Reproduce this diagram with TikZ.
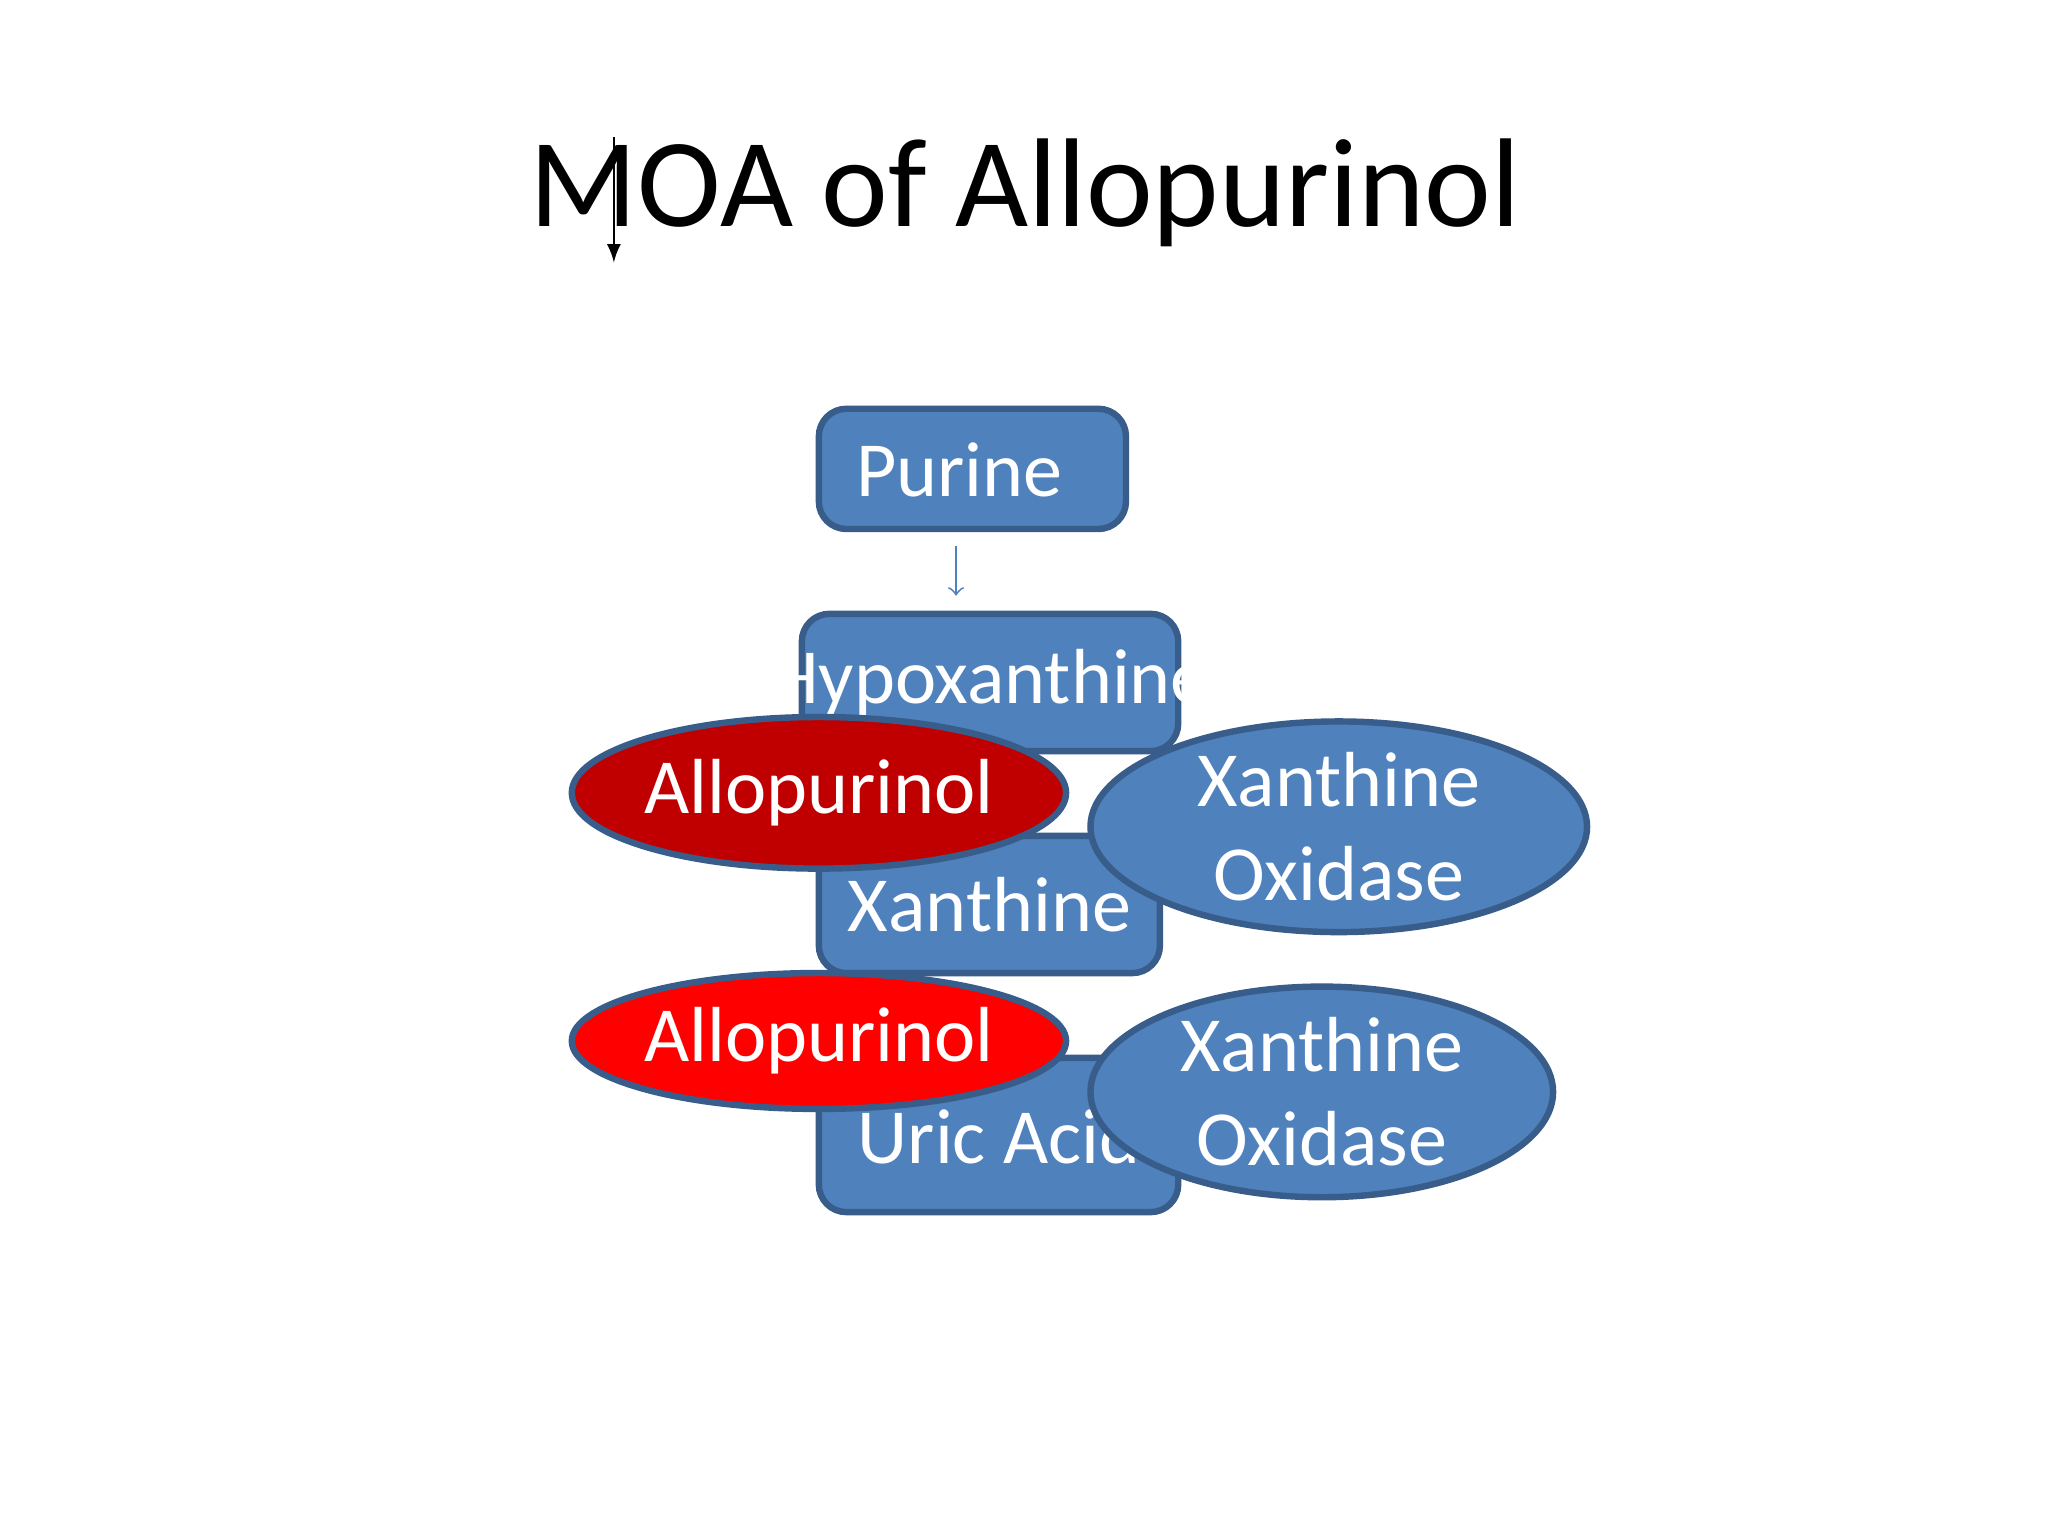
\documentclass[tikz,border=0pt]{standalone}
\usepackage{fontspec}
\setmainfont{Carlito}
\usetikzlibrary{shapes.geometric}
\definecolor{boxblue}{HTML}{4F81BD}
\definecolor{boxline}{HTML}{385D8A}
\definecolor{darkred}{HTML}{C00000}
\begin{document}
\begin{tikzpicture}[x=0.01cm,y=-0.01cm,
                    stepbox/.style={rectangle, rounded corners=6pt, draw=boxline, line width=1.4pt, fill=boxblue, text=white, font=\fontsize{17}{20}\selectfont},
                    drugnode/.style={ellipse, draw=boxline, line width=1.4pt, text=white, font=\fontsize{17}{20}\selectfont, inner sep=0pt},
                    enzymenode/.style={ellipse, draw=boxline, line width=1.4pt, fill=boxblue, text=white, align=center, font=\fontsize{17}{20.5}\selectfont, inner sep=0pt}
                   ]
\useasboundingbox[fill=white] (0,0) rectangle (1568,1176);
%Title
\node (title) at (785,148) {\fontsize{27.5}{33}\selectfont MOA of Allopurinol};
\coordinate (ta) at (470,105);
\coordinate (tb) at (470,201);
\draw[-latex, thin] (ta) -- (tb);
%Boxes
\node[stepbox, minimum width=2.35cm, minimum height=0.92cm] (purine) at (744.5,359) {};
\node[anchor=west, text=white, font=\fontsize{17}{20}\selectfont] (purinetext) at (643,360) {Purine};
\node[stepbox, minimum width=2.88cm, minimum height=1.05cm] (hypo) at (758,522.5) {};
\node[text=white, font=\fontsize{17}{20}\selectfont] (hypotext) at (758,523) {Hypoxanthine};
\node[stepbox, minimum width=2.61cm, minimum height=1.05cm] (xan) at (757.5,692.5) {Xanthine};
\node[stepbox, minimum width=2.75cm, minimum height=1.18cm] (uric) at (764.5,869) {};
\node[text=white, font=\fontsize{17}{20}\selectfont] (urictext) at (765,870) {Uric Acid};
%Lines
\coordinate (pa) at (732,418);
\coordinate (pb) at (732,456);
\draw[->, boxblue, thin] (pa) -- (pb);
%Ellipses
\node[drugnode, fill=darkred, minimum width=3.14cm, minimum height=1.16cm] (allo1) at (627,607) {Allopurinol};
\node[enzymenode, minimum width=3.8cm, minimum height=1.16cm] (xo1) at (1025,633) {Xanthine\\Oxidase};
\node[drugnode, fill=red, minimum width=3.14cm, minimum height=1.04cm] (allo2) at (627,797) {Allopurinol};
\node[enzymenode, minimum width=3.54cm, minimum height=1.56cm] (xo2) at (1012,836) {Xanthine\\Oxidase};
\end{tikzpicture}
\end{document}
